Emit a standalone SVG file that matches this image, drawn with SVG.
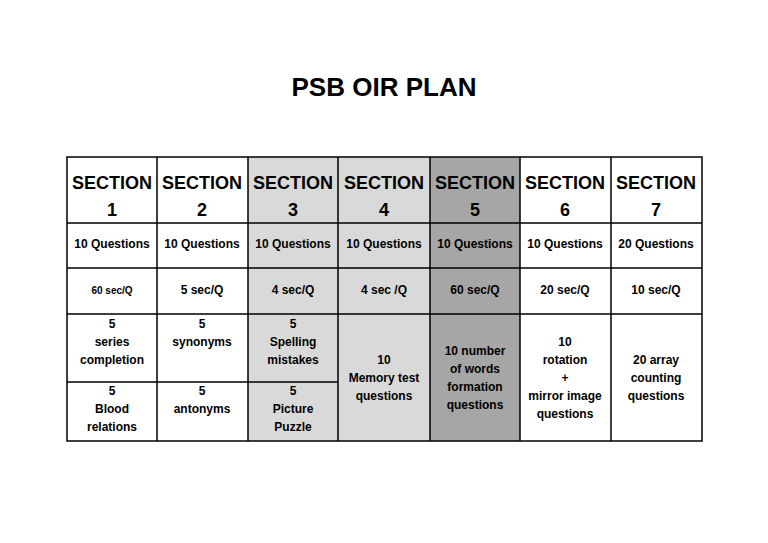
<svg xmlns="http://www.w3.org/2000/svg" width="768" height="543" viewBox="0 0 768 543">
<style>
text{font-family:"Liberation Sans",Arial,sans-serif;font-weight:bold;text-anchor:middle;fill:#000}
.h{font-size:18px}.q{font-size:12px}.s{font-size:12px}.c{font-size:12px}
.g{stroke:#000;stroke-width:1.5;fill:none}
</style>
<rect width="768" height="543" fill="#fff"/>
<text x="384" y="96" style="font-size:26px">PSB OIR PLAN</text>
<g id="fills">
<rect x="248" y="157" width="182" height="284" fill="#d9d9d9"/>
<rect x="430" y="157" width="90" height="284" fill="#a6a6a6"/>
</g>
<g id="grid" class="g">
<rect x="67" y="157" width="635" height="284"/>
<path d="M157 157V441M248 157V441M338 157V441M430 157V441M520 157V441M611 157V441"/>
<path d="M67 223H702M67 268H702M67 314H702M67 382H338"/>
</g>
<g id="s1"><text class="h" x="112" y="189">SECTION</text><text class="h" x="112" y="216">1</text><text class="q" x="112" y="248">10 Questions</text><text class="s" x="112" y="294" style="font-size:10px">60 sec/Q</text><text class="c" x="112" y="328">5</text><text class="c" x="112" y="346">series</text><text class="c" x="112" y="364">completion</text><text class="c" x="112" y="395">5</text><text class="c" x="112" y="413">Blood</text><text class="c" x="112" y="431">relations</text></g>
<g id="s2"><text class="h" x="202" y="189">SECTION</text><text class="h" x="202" y="216">2</text><text class="q" x="202" y="248">10 Questions</text><text class="s" x="202" y="294">5 sec/Q</text><text class="c" x="202" y="328">5</text><text class="c" x="202" y="346">synonyms</text><text class="c" x="202" y="395">5</text><text class="c" x="202" y="413">antonyms</text></g>
<g id="s3"><text class="h" x="293" y="189">SECTION</text><text class="h" x="293" y="216">3</text><text class="q" x="293" y="248">10 Questions</text><text class="s" x="293" y="294">4 sec/Q</text><text class="c" x="293" y="328">5</text><text class="c" x="293" y="346">Spelling</text><text class="c" x="293" y="364">mistakes</text><text class="c" x="293" y="395">5</text><text class="c" x="293" y="413">Picture</text><text class="c" x="293" y="431">Puzzle</text></g>
<g id="s4"><text class="h" x="384" y="189">SECTION</text><text class="h" x="384" y="216">4</text><text class="q" x="384" y="248">10 Questions</text><text class="s" x="384" y="294">4 sec /Q</text><text class="c" x="384" y="364">10</text><text class="c" x="384" y="382">Memory test</text><text class="c" x="384" y="400">questions</text></g>
<g id="s5"><text class="h" x="475" y="189">SECTION</text><text class="h" x="475" y="216">5</text><text class="q" x="475" y="248">10 Questions</text><text class="s" x="475" y="294">60 sec/Q</text><text class="c" x="475" y="355">10 number</text><text class="c" x="475" y="373">of words</text><text class="c" x="475" y="391">formation</text><text class="c" x="475" y="409">questions</text></g>
<g id="s6"><text class="h" x="565" y="189">SECTION</text><text class="h" x="565" y="216">6</text><text class="q" x="565" y="248">10 Questions</text><text class="s" x="565" y="294">20 sec/Q</text><text class="c" x="565" y="346">10</text><text class="c" x="565" y="364">rotation</text><text class="c" x="565" y="382">+</text><text class="c" x="565" y="400">mirror image</text><text class="c" x="565" y="418">questions</text></g>
<g id="s7"><text class="h" x="656" y="189">SECTION</text><text class="h" x="656" y="216">7</text><text class="q" x="656" y="248">20 Questions</text><text class="s" x="656" y="294">10 sec/Q</text><text class="c" x="656" y="364">20 array</text><text class="c" x="656" y="382">counting</text><text class="c" x="656" y="400">questions</text></g>
</svg>
